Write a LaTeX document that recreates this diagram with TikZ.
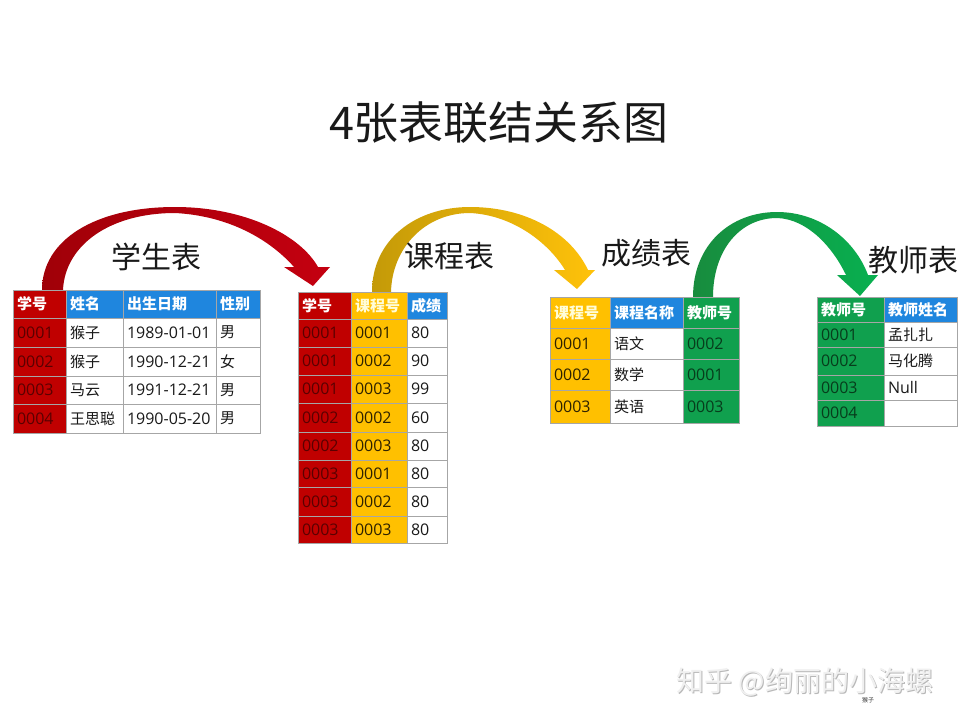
\documentclass[tikz,border=0pt]{standalone}
\usepackage{fontspec}
\setmainfont{Noto Sans CJK SC}
\newfontfamily\numfam{Open Sans}
\newcommand\nf[1]{{\numfam\fontsize{16}{17}\selectfont #1}}
\definecolor{cred}{HTML}{C00000}
\definecolor{cblue}{HTML}{1F86DE}
\definecolor{cyel}{HTML}{FFC000}
\definecolor{cgrn}{HTML}{10A04E}
\definecolor{gridgray}{HTML}{A6A6A6}
\definecolor{tred}{HTML}{5A0000}
\definecolor{tyel}{HTML}{2E2200}
\definecolor{tgrn}{HTML}{073D1C}
\definecolor{ared}{HTML}{A00008}
\definecolor{aredL}{HTML}{C40010}
\definecolor{ayel}{HTML}{C49A08}
\definecolor{ayelL}{HTML}{FFC20A}
\definecolor{agrn}{HTML}{188C3E}
\definecolor{agrnL}{HTML}{08B050}
\newcommand\tcell[7]{%
  \pgfmathsetmacro\tcW{#4-#2}\pgfmathsetmacro\tcH{#5-#3}\pgfmathsetmacro\tcT{#4-#2-8}%
  \node[cellbox,#6,minimum width=\tcW pt,minimum height=\tcH pt,text width=\tcT pt,anchor=north west] (#1) at (#2,#3) {#7};}
\tikzset{
  cellbox/.style={draw=gridgray, line width=0.7pt, inner xsep=4pt, inner ysep=0pt, outer sep=0pt,
    align=left, font=\fontsize{15}{17}\selectfont, text=black},
  hdr/.style={font=\fontsize{15}{17}\selectfont\bfseries, text=white},
  redh/.style={hdr, fill=cred},
  blueh/.style={hdr, fill=cblue},
  yelh/.style={hdr, fill=cyel, text=yellow!15},
  grnh/.style={hdr, fill=cgrn},
  redd/.style={fill=cred, text=tred},
  yeld/.style={fill=cyel, text=tyel},
  grnd/.style={fill=cgrn, text=tgrn},
  whd/.style={fill=white, text=black!90},
  tablabel/.style={font=\fontsize{30}{32}\selectfont, text=black!90},
}
\begin{document}
\begin{tikzpicture}[x=1pt,y=-1pt]
\fill[white] (0,0) rectangle (960,720);
\useasboundingbox (0,0) rectangle (960,720);

% title
\node[font=\fontsize{45}{48}\selectfont, text=black!90] (title) at (499,123) {4张表联结关系图};

% ---- arrows ----
\shade[left color=ared, right color=aredL]
  (42,290) .. controls (42,240) and (95,207) .. (175,207)
  .. controls (245,207) and (300,235) .. (318,267)
  -- (330,267) -- (313,286) -- (284,267) -- (294,267)
  .. controls (272,242) and (232,216) .. (175,213)
  .. controls (110,213) and (65,245) .. (63,290) -- cycle;
\shade[left color=ayel, right color=ayelL]
  (372,292) .. controls (372,240) and (415,207) .. (470,207)
  .. controls (525,207) and (570,232) .. (588,270)
  -- (595,270) -- (577,289) -- (554,270) -- (565,270)
  .. controls (548,242) and (512,215) .. (470,213)
  .. controls (425,213) and (392,248) .. (391,292) -- cycle;
\shade[left color=agrn, right color=agrnL]
  (693,297) .. controls (693,245) and (730,212) .. (777,212)
  .. controls (820,212) and (855,240) .. (868,275)
  -- (878,275) -- (860,296) -- (837,275) -- (846,275)
  .. controls (833,248) and (808,219) .. (777,218)
  .. controls (740,218) and (713,250) .. (713,297) -- cycle;

% labels
\node[tablabel] (l1) at (156,257) {学生表};
\node[tablabel] (l2) at (449,256) {课程表};
\node[tablabel] (l3) at (646,253) {成绩表};
\node[tablabel] (l4) at (913,260) {教师表};

% ---- table 1: 学生表 ----
\tcell{s0a}{13}{290}{66}{318}{redh}{学号}
\tcell{s0b}{66}{290}{123}{318}{blueh}{姓名}
\tcell{s0c}{123}{290}{216}{318}{blueh}{出生日期}
\tcell{s0d}{216}{290}{260}{318}{blueh}{性别}
\foreach \ya/\yb/\a/\b/\c/\d in {318/347/0001/猴子/1989-01-01/男,347/376/0002/猴子/1990-12-21/女,376/404/0003/马云/1991-12-21/男,404/433/0004/王思聪/1990-05-20/男}{
  \tcell{s\ya a}{13}{\ya}{66}{\yb}{redd}{\nf{\a}}
  \tcell{s\ya b}{66}{\ya}{123}{\yb}{whd}{\b}
  \tcell{s\ya c}{123}{\ya}{216}{\yb}{whd}{\nf{\c}}
  \tcell{s\ya d}{216}{\ya}{260}{\yb}{whd}{\d}
}

% ---- table 2: 成绩表 ----
\tcell{g0a}{298}{292}{351}{319}{redh}{学号}
\tcell{g0b}{351}{292}{407}{319}{yelh}{课程号}
\tcell{g0c}{407}{292}{447}{319}{blueh}{成绩}
\foreach \ya/\yb/\a/\b/\c in {319/347/0001/0001/80,347/375/0001/0002/90,375/403/0001/0003/99,403/432/0002/0002/60,432/460/0002/0003/80,460/487/0003/0001/80,487/516/0003/0002/80,516/543/0003/0003/80}{
  \tcell{g\ya a}{298}{\ya}{351}{\yb}{redd}{\nf{\a}}
  \tcell{g\ya b}{351}{\ya}{407}{\yb}{yeld}{\nf{\b}}
  \tcell{g\ya c}{407}{\ya}{447}{\yb}{whd}{\nf{\c}}
}

% ---- table 3: 课程表 ----
\tcell{c0a}{550}{297}{610}{328}{yelh}{课程号}
\tcell{c0b}{610}{297}{683}{328}{blueh}{课程名称}
\tcell{c0c}{683}{297}{739}{328}{grnh}{教师号}
\foreach \ya/\yb/\a/\b/\c in {328/359/0001/语文/0002,359/390/0002/数学/0001,390/423/0003/英语/0003}{
  \tcell{c\ya a}{550}{\ya}{610}{\yb}{yeld}{\nf{\a}}
  \tcell{c\ya b}{610}{\ya}{683}{\yb}{whd}{\b}
  \tcell{c\ya c}{683}{\ya}{739}{\yb}{grnd}{\nf{\c}}
}

% ---- table 4: 教师表 ----
\tcell{t0a}{817}{297}{884}{322}{grnh}{教师号}
\tcell{t0b}{884}{297}{957}{322}{blueh}{教师姓名}
\foreach \ya/\yb/\a/\b in {322/347/0001/孟扎扎,347/375/0002/马化腾,375/400/0003/\nf{Null},400/426/0004/{}}{
  \tcell{t\ya a}{817}{\ya}{884}{\yb}{grnd}{\nf{\a}}
  \tcell{t\ya b}{884}{\ya}{957}{\yb}{whd}{\b}
}

% watermark
\node[font=\fontsize{28}{30}\selectfont, text=black!28] (wm0) at (805.7,682.7) {知乎 @绚丽的小海螺};
\node[font=\fontsize{28}{30}\selectfont, text=black!6] (wm) at (805,682) {知乎 @绚丽的小海螺};
\node[font=\fontsize{6}{7}\selectfont, text=black!80] (wm2) at (868,700) {猴子};
\end{tikzpicture}
\end{document}
